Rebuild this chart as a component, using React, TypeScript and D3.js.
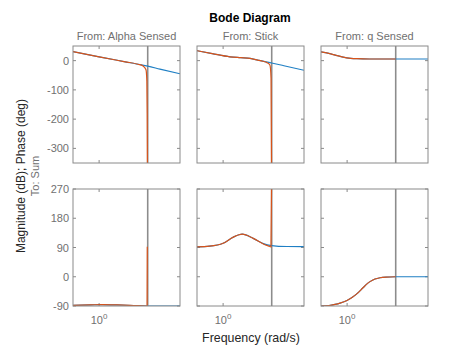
import React from "react";
import * as d3 from "d3";

// ---------- data ----------
const inputs = ["From: Alpha Sensed", "From: Stick", "From: q Sensed"];
const outputLabel = "To: Sum";
const magTicks = [0, -100, -200, -300];
const phaseTicks = [270, 180, 90, 0, -90];
const freqTicks = [1];
const nyquist = 3.62;

// Magnitude (dB) – Alpha Sensed
const magAlphaBlueW = [0.5, 1, 2, 3, 3.62, 5, 8.5];
const magAlphaBlue = [31, 13, -4, -14, -19, -29, -45];
const magAlphaOrangeW = [0.5, 1, 2, 2.8, 3.2, 3.46, 3.54, 3.57, 3.59];
const magAlphaOrange = [31, 13, -4, -12.3, -18, -31, -70, -180, -350];

// Magnitude (dB) – Stick
const magStickBlueW = [0.5, 0.75, 1.2, 1.6, 2.04, 2.5, 2.87, 3.62, 5, 8.5];
const magStickBlue = [34, 24, 13, 10, 7.5, 2, -2, -8, -17.5, -33];
const magStickOrangeW = [0.5, 0.75, 1.2, 1.6, 2.04, 2.5, 2.87, 3.2, 3.45, 3.56, 3.6];
const magStickOrange = [34, 24, 13, 10, 7.5, 2, -2, -7, -15, -60, -350];

// Magnitude (dB) – q Sensed
const magQBlueW = [0.5, 0.65, 0.77, 0.9, 1.1, 1.3, 1.8, 3.62, 8.5];
const magQBlue = [30, 23, 17, 12, 8, 6.5, 5.5, 5.5, 5.5];
const magQOrangeW = [0.5, 0.65, 0.77, 0.9, 1.1, 1.3, 1.8, 3.62];
const magQOrange = [30, 23, 17, 12, 8, 6.5, 5.5, 5.5];

// Phase (deg) – Alpha Sensed
const phAlphaBlueW = [0.5, 0.8, 1.1, 1.6, 2.5, 3.62, 8.5];
const phAlphaBlue = [-88, -86.5, -85.5, -86.5, -88.5, -90, -90];
const phAlphaOrangeW = [0.5, 0.8, 1.1, 1.6, 2.5, 3.4, 3.56, 3.58];
const phAlphaOrange = [-88, -86.5, -85.5, -86.5, -88.5, -90, -90, 92];

// Phase (deg) – Stick
const phStickBlueW = [0.5, 0.7, 1.0, 1.31, 1.66, 2.22, 2.9, 3.62, 5.4, 8.5];
const phStickBlue = [92, 94, 103, 122, 131, 118, 102, 96, 93, 92.5];
const phStickOrangeW = [0.5, 0.7, 1.0, 1.31, 1.66, 2.22, 2.9, 3.3, 3.55, 3.6];
const phStickOrange = [92, 94, 103, 122, 131, 118, 101, 95, 92, 270];

// Phase (deg) – q Sensed
const phQBlueW = [0.501, 0.619, 0.726, 0.829, 0.997, 1.138, 1.3, 1.523, 1.693, 1.833, 2.092, 2.389, 2.8, 3.62, 8.5];
const phQBlue = [-90, -88.5, -85, -81, -73, -64, -52, -34, -22, -15, -7, -3, -1, 0, 0];
const phQOrangeW = [0.501, 0.619, 0.726, 0.829, 0.997, 1.138, 1.3, 1.523, 1.693, 1.833, 2.092, 2.389, 2.8, 3.62];
const phQOrange = [-90, -88.5, -85, -81, -73, -64, -52, -34, -22, -15, -7, -3, -1, 0];

// ---------- layout ----------
const W = 474;
const H = 355;
const colX = [73, 197, 321];
const panelW = 107;
const rowY = [46, 189];
const panelH = 117;
const BLUE = "#1f7fc4";
const ORANGE = "#d95319";
const AXIS = "#8a8a8a";
const TXT = "#707070";
const FONT = "'Liberation Sans', Arial, Helvetica, sans-serif";

const panels = [
  [
    { bw: magAlphaBlueW, b: magAlphaBlue, ow: magAlphaOrangeW, o: magAlphaOrange },
    { bw: magStickBlueW, b: magStickBlue, ow: magStickOrangeW, o: magStickOrange },
    { bw: magQBlueW, b: magQBlue, ow: magQOrangeW, o: magQOrange },
  ],
  [
    { bw: phAlphaBlueW, b: phAlphaBlue, ow: phAlphaOrangeW, o: phAlphaOrange },
    { bw: phStickBlueW, b: phStickBlue, ow: phStickOrangeW, o: phStickOrange },
    { bw: phQBlueW, b: phQBlue, ow: phQOrangeW, o: phQOrange },
  ],
];

export default function App() {
  const x0 = d3.scaleLog().domain([0.501, 8.51]).range([0, panelW]);
  const yScales = [
    d3.scaleLinear().domain([-350, 50]).range([panelH, 0]),
    d3.scaleLinear().domain([-90, 270]).range([panelH, 0]),
  ];
  const rowTicks = [magTicks, phaseTicks];

  return (
    <svg
      width={W}
      height={H}
      style={{ position: "absolute", left: 0, top: 0, background: "#fff" }}
      fontFamily={FONT}
    >
      <defs>
        {[0, 1].map((r) =>
          [0, 1, 2].map((c) => (
            <clipPath id={`clip-${r}-${c}`} key={`${r}-${c}`}>
              <rect x={0} y={0} width={panelW} height={panelH} />
            </clipPath>
          ))
        )}
      </defs>
      <text x={250} y={22} textAnchor="middle" fontSize={12} fontWeight="bold" fill="#000">
        Bode Diagram
      </text>
      {inputs.map((t, c) => (
        <text key={t} x={colX[c] + panelW / 2} y={40} textAnchor="middle" fontSize={11} fill={TXT}>
          {t}
        </text>
      ))}
      <text
        transform="translate(25,176) rotate(-90)"
        textAnchor="middle"
        fontSize={12}
        fill="#262626"
      >
        Magnitude (dB); Phase (deg)
      </text>
      <text transform="translate(39,176) rotate(-90)" textAnchor="middle" fontSize={11} fill={TXT}>
        {outputLabel}
      </text>
      <text x={251} y={342} textAnchor="middle" fontSize={12.4} fill="#262626">
        Frequency (rad/s)
      </text>
      {[0, 1].map((r) => {
        const y = yScales[r];
        return [0, 1, 2].map((c) => {
          const p = panels[r][c];
          const line = d3
            .line<[number, number]>()
            .x((d) => x0(d[0]))
            .y((d) => y(d[1]))
            .curve(d3.curveMonotoneX);
          const bData = p.bw.map((w, i) => [w, p.b[i]] as [number, number]);
          const oData = p.ow.map((w, i) => [w, p.o[i]] as [number, number]);
          return (
            <g key={`${r}-${c}`} transform={`translate(${colX[c]},${rowY[r]})`}>
              <rect x={0} y={0} width={panelW} height={panelH} fill="#fff" />
              {rowTicks[r].map((t) => (
                <g key={t}>
                  <line x1={0} x2={3} y1={y(t)} y2={y(t)} stroke={AXIS} strokeWidth={1} />
                  <line x1={panelW - 3} x2={panelW} y1={y(t)} y2={y(t)} stroke={AXIS} strokeWidth={1} />
                </g>
              ))}
              {freqTicks.map((f) => (
                <g key={f}>
                  <line x1={x0(f)} x2={x0(f)} y1={panelH} y2={panelH - 3} stroke={AXIS} />
                  <line x1={x0(f)} x2={x0(f)} y1={0} y2={3} stroke={AXIS} />
                </g>
              ))}
              <line
                x1={x0(nyquist)}
                x2={x0(nyquist)}
                y1={0}
                y2={panelH}
                stroke="#8c8c8c"
                strokeWidth={1.6}
              />
              <g clipPath={`url(#clip-${r}-${c})`}>
                <path d={line(bData) || ""} fill="none" stroke={BLUE} strokeWidth={1.2} />
                <path d={line(oData) || ""} fill="none" stroke={ORANGE} strokeWidth={1.2} />
              </g>
              <rect x={0} y={0} width={panelW} height={panelH} fill="none" stroke={AXIS} strokeWidth={1} />
              {c === 0 &&
                rowTicks[r].map((t) => (
                  <text key={t} x={-4} y={y(t) + 4} textAnchor="end" fontSize={11} fill={TXT}>
                    {t}
                  </text>
                ))}
              {r === 1 &&
                freqTicks.map((f) => (
                  <text key={f} x={x0(f)} y={panelH + 18} textAnchor="middle" fontSize={11} fill={TXT}>
                    10
                    <tspan dy={-5} fontSize={8}>
                      0
                    </tspan>
                  </text>
                ))}
            </g>
          );
        });
      })}
    </svg>
  );
}
